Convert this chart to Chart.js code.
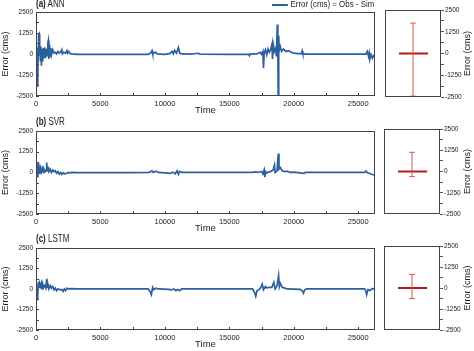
<!DOCTYPE html>
<html>
<head>
<meta charset="utf-8">
<script src="https://cdn.jsdelivr.net/npm/chart.js@4.4.1/dist/chart.umd.min.js"></script>
<style>
  body { margin:0; background:#fff; }
  #wrap { position:relative; width:474px; height:351px; overflow:hidden; font-family:'Liberation Sans',Arial,sans-serif; color:#222; }
  canvas { position:absolute; }
  .ttl { position:absolute; font-size:10px; line-height:10px; white-space:nowrap; transform:scaleX(0.8); transform-origin:left top; }
  .ttl b { font-weight:bold; }
  #leg { position:absolute; left:272px; top:0px; font-size:9px; line-height:9px; white-space:nowrap; transform:scaleX(0.88); transform-origin:left top; }
  #leg span { display:inline-block; width:18px; height:0; border-top:2px solid #2c5f9e; vertical-align:middle; margin-right:3px; }
</style>
</head>
<body>
<div id="wrap">
  <canvas id="m0" width="378" height="111" style="left:0;top:5px"></canvas>
  <canvas id="b0" width="89" height="97" style="left:385px;top:5px"></canvas>
  <canvas id="m1" width="378" height="110" style="left:0;top:124px"></canvas>
  <canvas id="b1" width="90" height="95" style="left:384px;top:124px"></canvas>
  <canvas id="m2" width="378" height="109" style="left:0;top:241px"></canvas>
  <canvas id="b2" width="90" height="94" style="left:384px;top:241px"></canvas>
  <div class="ttl" style="left:36px;top:-1px"><b>(a)</b> ANN</div>
  <div class="ttl" style="left:36px;top:117px"><b>(b)</b> SVR</div>
  <div class="ttl" style="left:36px;top:234px"><b>(c)</b> LSTM</div>
  <div id="leg"><span></span>Error (cms) = Obs - Sim</div>
</div>
<script>
// valores (tempo, erro)
const annT = [0,60,100,120,150,170,200,240,270,300,340,380,420,470,520,580,630,680,740,800,860,920,960,1000,1050,1100,1150,1200,1300,1400,1500,1600,1700,1800,1900,2000,2050,2150,2300,2400,2450,2550,2650,2800,3200,5000,8700,8900,9000,9050,9300,9400,10000,10400,10550,10650,10750,10900,11050,11150,11300,12000,12600,12700,15000,16500,16560,16620,17200,17400,17500,17600,17650,17700,17800,17900,18000,18100,18200,18300,18350,18400,18500,18600,18650,18720,18760,18790,18830,18870,18950,19050,19200,19400,19600,19800,20000,20300,20600,20650,20700,21000,25600,25700,25800,25850,25900,26000,26100,26200,26300];
const annE = [0,350,-300,-1950,-1850,400,1150,1200,-100,500,-400,450,-700,300,-450,350,-200,400,-250,300,-100,650,800,-300,550,-150,350,-50,250,50,100,0,150,50,100,250,0,100,50,200,50,150,20,0,-30,-30,-20,60,200,20,100,0,-20,30,150,0,220,50,380,50,0,-10,40,-10,-20,-20,-100,-10,20,100,-20,150,-850,50,250,-50,300,100,250,550,-300,600,150,350,-150,1750,600,-2450,1100,200,450,150,300,150,200,100,50,20,30,180,20,-10,-10,150,-150,50,-300,-50,-250,-100,-200];

const svrT = [0,60,100,140,170,220,260,300,360,420,480,560,620,700,780,830,870,930,1000,1100,1200,1300,1400,1500,1600,1700,1800,1900,2000,2100,2200,2400,2500,2600,2800,3200,7500,8800,9000,9100,9300,9500,10000,10400,10600,10800,10950,11050,11150,11300,16800,17000,17200,17500,17600,17700,17750,17800,17900,18000,18200,18400,18500,18550,18700,18800,18850,18950,19100,19300,19500,19700,20000,20500,20800,20900,25500,25600,25700,25900,26100,26300];
const svrE = [0,200,550,-300,550,100,350,-100,250,50,250,0,200,50,150,600,100,350,50,200,0,150,50,100,-50,50,-100,0,-120,-20,-80,-50,0,-30,0,-10,-10,10,100,0,80,0,-20,-60,20,-80,100,-120,60,0,0,30,0,60,-80,150,-280,50,-50,30,50,150,450,0,100,1130,200,300,100,50,80,0,20,-30,-60,0,0,90,-20,-60,-120,-170];

const lstmT = [0,60,100,130,160,200,250,300,360,420,480,540,600,680,760,830,870,930,1000,1100,1200,1300,1400,1500,1600,1700,1900,2000,2100,2200,2300,2400,2500,2800,3200,8700,8850,8950,9050,9150,9300,9500,10300,10500,10700,10850,11000,11150,11300,16800,16950,17050,17150,17300,17450,17550,17650,17800,17900,18100,18300,18450,18550,18700,18820,18880,18950,19100,19300,19500,20500,20700,20750,20850,21000,25500,25600,25650,25750,25900,26100,26300];
const lstmE = [0,-300,-630,-600,300,450,100,300,150,350,0,250,100,200,50,600,100,250,0,200,50,150,-50,50,-100,0,-50,-30,-150,0,-100,50,0,20,0,0,-150,-350,100,-50,50,0,-30,-60,0,-100,-30,-110,0,0,-200,-450,-100,-50,100,300,-50,150,50,100,100,400,0,200,810,150,350,100,50,0,-20,-150,-250,-50,0,0,-150,-350,-50,-100,20,0];

// barra de erro (painel da direita)
const errMax = [1750, 1130, 810];
const errMin = [-2450, -300, -630];
const errMid = [0, 0, 0];

const series = [[annT, annE], [svrT, svrE], [lstmT, lstmE]];

// marcas dos eixos
const yTicks = [2500, 1250, 0, -1250, -2500];
const yMinor = [2500, 1875, 1250, 625, 0, -625, -1250, -1875, -2500];
const xTicks = [0, 5000, 10000, 15000, 20000, 25000];
const xMinor = [0, 2500, 5000, 7500, 10000, 12500, 15000, 17500, 20000, 22500, 25000];

const F = "'Liberation Sans',Arial,sans-serif";
const AZUL = '#2c5f9e';

const moldura = {
  id: 'moldura',
  afterDraw(chart, args, opts) {
    const ctx = chart.ctx, a = chart.chartArea;
    ctx.save();
    ctx.strokeStyle = '#444';
    ctx.lineWidth = 1;
    ctx.strokeRect(Math.round(a.left) + 0.5, Math.round(a.top) + 0.5, Math.round(a.right - a.left) - 1, Math.round(a.bottom - a.top) - 1);
    if (opts.inner) {
      ctx.beginPath();
      chart.scales.x.ticks.forEach(t => {
        const px = Math.round(chart.scales.x.getPixelForValue(t.value)) + 0.5;
        ctx.moveTo(px, a.bottom); ctx.lineTo(px, a.bottom - 3);
      });
      chart.scales.y.ticks.forEach(t => {
        const py = Math.round(chart.scales.y.getPixelForValue(t.value)) + 0.5;
        ctx.moveTo(a.left, py); ctx.lineTo(a.left + 3, py);
      });
      ctx.stroke();
    }
    if (opts.rightTitle) {
      ctx.fillStyle = '#222';
      ctx.font = '9px ' + F;
      ctx.textAlign = 'center';
      ctx.textBaseline = 'middle';
      ctx.translate(chart.width - 6, (a.top + a.bottom) / 2);
      ctx.rotate(-Math.PI / 2);
      ctx.fillText('Error (cms)', 0, 0);
    }
    ctx.restore();
  }
};

const labelY = v => yTicks.includes(Math.round(v)) ? String(Math.round(v)) : '';
const labelX = v => xTicks.includes(Math.round(v)) ? String(Math.round(v)) : '';
const setX = s => { s.ticks = xMinor.map(v => ({ value: v })); };
const setY = s => { s.ticks = yMinor.map(v => ({ value: v })); };

for (let i = 0; i < 3; i++) {
  const [tt, ee] = series[i];
  const pts = tt.map((t, k) => ({ x: t, y: ee[k] }));

  new Chart(document.getElementById('m' + i), {
    type: 'line',
    data: {
      datasets: [{
        data: pts,
        borderColor: AZUL,
        borderWidth: 1.7,
        pointRadius: 0,
        tension: 0,
        fill: false
      }]
    },
    options: {
      responsive: false,
      animation: false,
      layout: { padding: { top: 5, right: 3, left: 0, bottom: 0 } },
      plugins: { legend: { display: false }, tooltip: { enabled: false }, moldura: { inner: true } },
      scales: {
        x: {
          type: 'linear', min: 0, max: 26300,
          afterBuildTicks: setX,
          grid: { display: false, drawTicks: false },
          border: { display: false },
          ticks: { autoSkip: false, maxRotation: 0, minRotation: 0, padding: 3, color: '#222', font: { size: 7.5, family: F }, callback: labelX },
          title: { display: true, text: 'Time', color: '#222', font: { size: 9.5, family: F }, padding: 0 },
          afterFit: s => { s.height = 20; }
        },
        y: {
          min: -2500, max: 2500,
          afterBuildTicks: setY,
          grid: { display: false, drawTicks: false },
          border: { display: false },
          ticks: { autoSkip: false, padding: 3, color: '#222', font: { size: 6.5, family: F }, callback: labelY },
          title: { display: true, text: 'Error (cms)', color: '#222', font: { size: 9, family: F }, padding: 0 },
          afterFit: s => { s.width = 36; }
        }
      }
    },
    plugins: [moldura]
  });

  new Chart(document.getElementById('b' + i), {
    type: 'scatter',
    data: {
      datasets: [
        { data: [{ x: 0.5, y: errMin[i] }, { x: 0.5, y: errMax[i] }], borderColor: '#d9534f', borderWidth: 1, showLine: true, pointRadius: 0 },
        { data: [{ x: 0.45, y: errMax[i] }, { x: 0.55, y: errMax[i] }], borderColor: '#d9534f', borderWidth: 1, showLine: true, pointRadius: 0 },
        { data: [{ x: 0.45, y: errMin[i] }, { x: 0.55, y: errMin[i] }], borderColor: '#d9534f', borderWidth: 1, showLine: true, pointRadius: 0 },
        { data: [{ x: 0.25, y: errMid[i] }, { x: 0.77, y: errMid[i] }], borderColor: '#b31b1b', borderWidth: 2, showLine: true, pointRadius: 0 }
      ]
    },
    options: {
      responsive: false,
      animation: false,
      layout: { padding: { top: 5, right: 0, left: 0, bottom: 5 } },
      plugins: { legend: { display: false }, tooltip: { enabled: false }, moldura: { inner: false, rightTitle: true } },
      scales: {
        x: { type: 'linear', min: 0, max: 1, display: false },
        y: {
          position: 'right', min: -2500, max: 2500,
          afterBuildTicks: setY,
          grid: { drawOnChartArea: false, drawTicks: true, tickLength: 3, color: '#555' },
          border: { display: false },
          ticks: { autoSkip: false, padding: 1, color: '#222', font: { size: 6.5, family: F }, callback: labelY },
          afterFit: s => { s.width = i === 0 ? 33 : 34; }
        }
      }
    },
    plugins: [moldura]
  });
}
</script>
</body>
</html>
